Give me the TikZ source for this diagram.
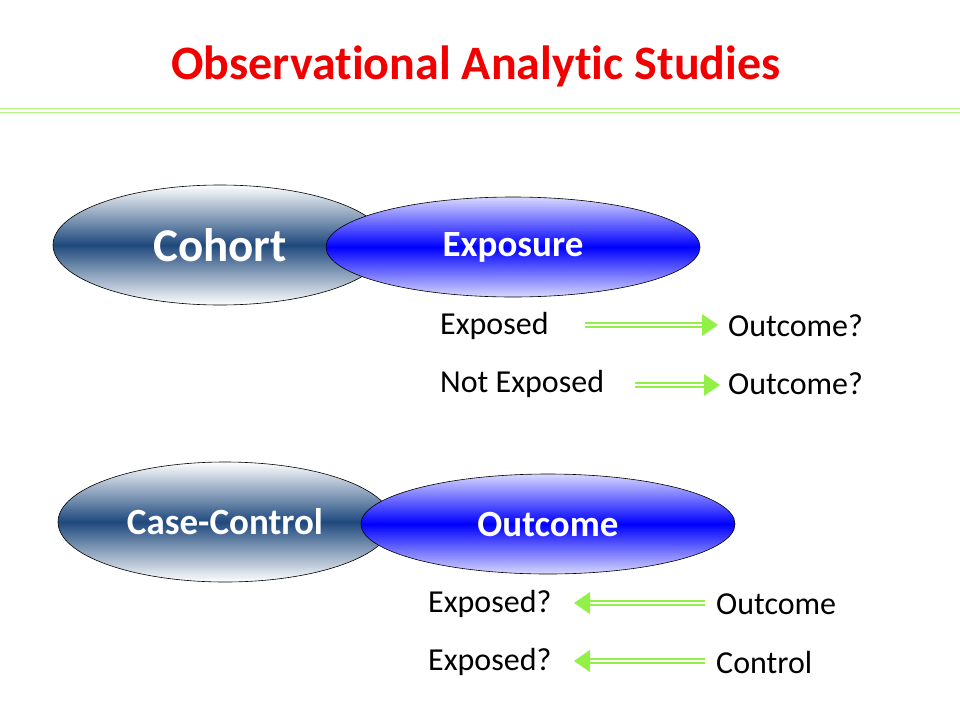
\documentclass[tikz,border=0pt]{standalone}
\usepackage{fontspec}
\setmainfont[Ligatures=NoCommon]{Carlito}
\usetikzlibrary{arrows.meta,shapes.geometric}
\definecolor{titlered}{RGB}{240,0,0}
\definecolor{navy}{RGB}{31,73,125}
\definecolor{arrowgreen}{RGB}{146,240,70}
\tikzset{
  oval/.style={ellipse,draw=black,line width=0.6pt,inner sep=0pt},
  greyoval/.style={oval,top color=white,bottom color=white,middle color=navy},
  blueoval/.style={oval,top color=blue!15,bottom color=blue!15,middle color=blue},
  ovaltext/.style={text=white,font=\bfseries},
  label/.style={anchor=west,inner sep=0pt,font=\fontsize{32}{38}\selectfont},
  dblarrow/.style={draw=arrowgreen,double=white,double distance=1.6pt,line width=2.4pt,
    -{Triangle[length=16pt,width=22pt,fill=arrowgreen,line width=0pt]}}
}
\begin{document}
\begin{tikzpicture}[x=1pt,y=-1pt]
\useasboundingbox (0,0) rectangle (960,720);

\node (title) [text=titlered,font=\fontsize{48}{56}\selectfont\bfseries] at (476,66) {Observational Analytic Studies};
\draw[arrowgreen!70,line width=0.8pt] (0,108) -- (960,108);
\draw[arrowgreen!70,line width=0.8pt] (0,112) -- (960,112);

% cohort
\node (cohort) [greyoval,minimum width=334,minimum height=120] at (220,245) {};
\node (exposure) [blueoval,minimum width=374,minimum height=100] at (513,247) {};
\node [ovaltext,font=\fontsize{47}{54}\selectfont\bfseries] at (cohort) {Cohort};
\node [ovaltext,font=\fontsize{37}{44}\selectfont\bfseries] at (exposure) {Exposure};

\node (exp) [label] at (440,326) {Exposed};
\node (out1) [label] at (728,326) {Outcome?};
\node (nexp) [label] at (440,384) {Not Exposed};
\node (out2) [label] at (728,384) {Outcome?};
\coordinate (a1) at (585,325);
\coordinate (a2) at (635,385);
\coordinate (t1) at (718,325);
\coordinate (t2) at (720,385);
\draw[dblarrow] (a1) -- (t1);
\draw[dblarrow] (a2) -- (t2);

% case-control
\node (cc) [greyoval,minimum width=334,minimum height=120] at (225,522) {};
\node (outcome) [blueoval,minimum width=374,minimum height=100] at (548,524) {};
\node [ovaltext,font=\fontsize{37}{44}\selectfont\bfseries] at (cc) {Case-Control};
\node [ovaltext,font=\fontsize{37}{44}\selectfont\bfseries] at (outcome) {Outcome};

\node (expq1) [label] at (428,604) {Exposed?};
\node (case) [label] at (716,604) {Outcome};
\node (expq2) [label] at (428,662) {Exposed?};
\node (ctrl) [label] at (716,662) {Control};
\coordinate (b1) at (705,603);
\coordinate (b2) at (705,661);
\coordinate (s1) at (574,603);
\coordinate (s2) at (574,661);
\draw[dblarrow] (b1) -- (s1);
\draw[dblarrow] (b2) -- (s2);
\end{tikzpicture}
\end{document}
